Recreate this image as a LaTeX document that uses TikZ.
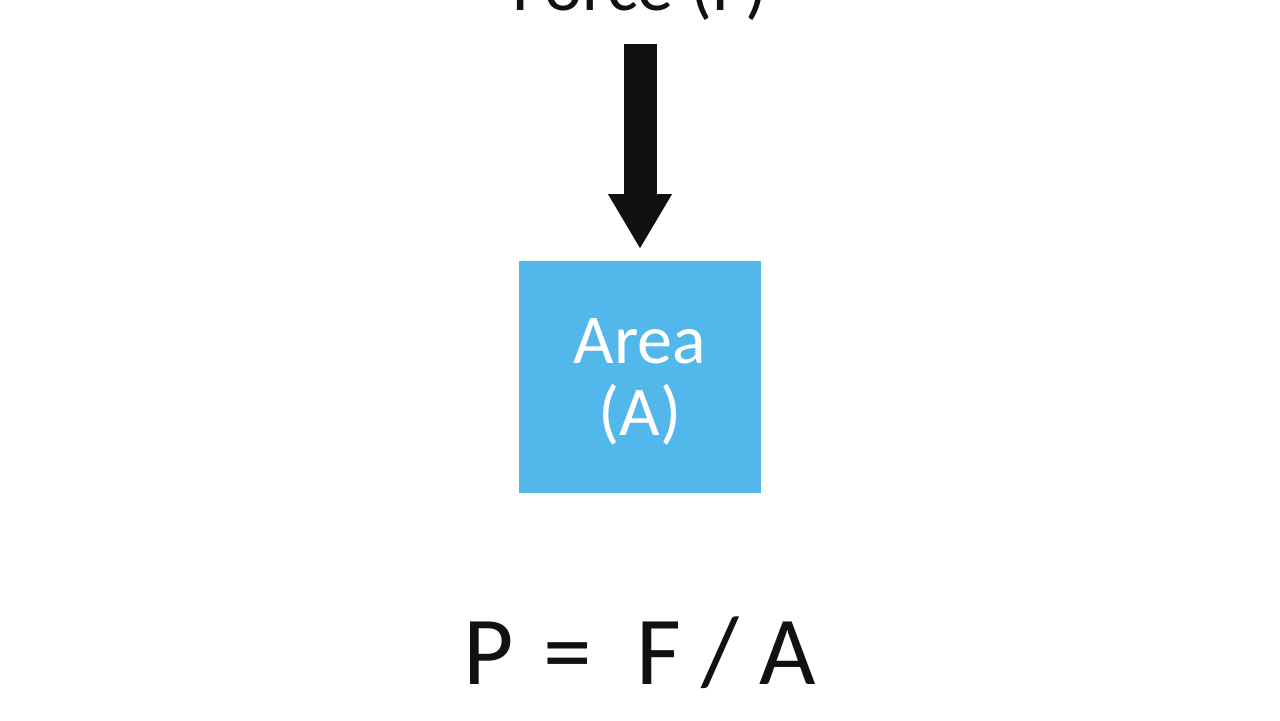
\documentclass[tikz,border=0pt]{standalone}
\usepackage{fontspec}
\setmainfont{Carlito}
\newfontfamily\formulafont[WordSpace=1.33]{Carlito}
\usetikzlibrary{calc}
\usetikzlibrary{arrows.meta}
\definecolor{areablue}{HTML}{52B8EC}
\definecolor{inkblack}{HTML}{111111}
\tikzset{
  areabox/.style={fill=areablue, minimum width=242*0.028125cm, minimum height=232*0.028125cm, inner sep=0pt},
  forcearrow/.style={-{Triangle[length=55*0.028125cm, width=60*0.028125cm]}, line width=33*0.028125cm, draw=inkblack},
}
\begin{document}
\begin{tikzpicture}[x=0.028125cm, y=-0.028125cm]
    \useasboundingbox (0,0) rectangle (1280,720);
    \node[areabox] (area) at (640,377) {};
    \node[text=white, font=\fontsize{56}{58}\selectfont, align=center] (arealabel) at (640,382) {Area\\(A)};
    \coordinate (tail) at (640,44);
    \coordinate (tip) at (640,249);
    \draw[forcearrow] (tail) -- (tip);
    \node[text=inkblack, anchor=base, font=\fontsize{58}{70}\selectfont] (force) at (640,10) {Force (F)};
    \node[text=inkblack, anchor=base, font=\formulafont\fontsize{78}{94}\selectfont] (formula) at (640,684) {P = \kern12pt F\kern-7pt{} / \kern-7pt A};
\end{tikzpicture}
\end{document}
